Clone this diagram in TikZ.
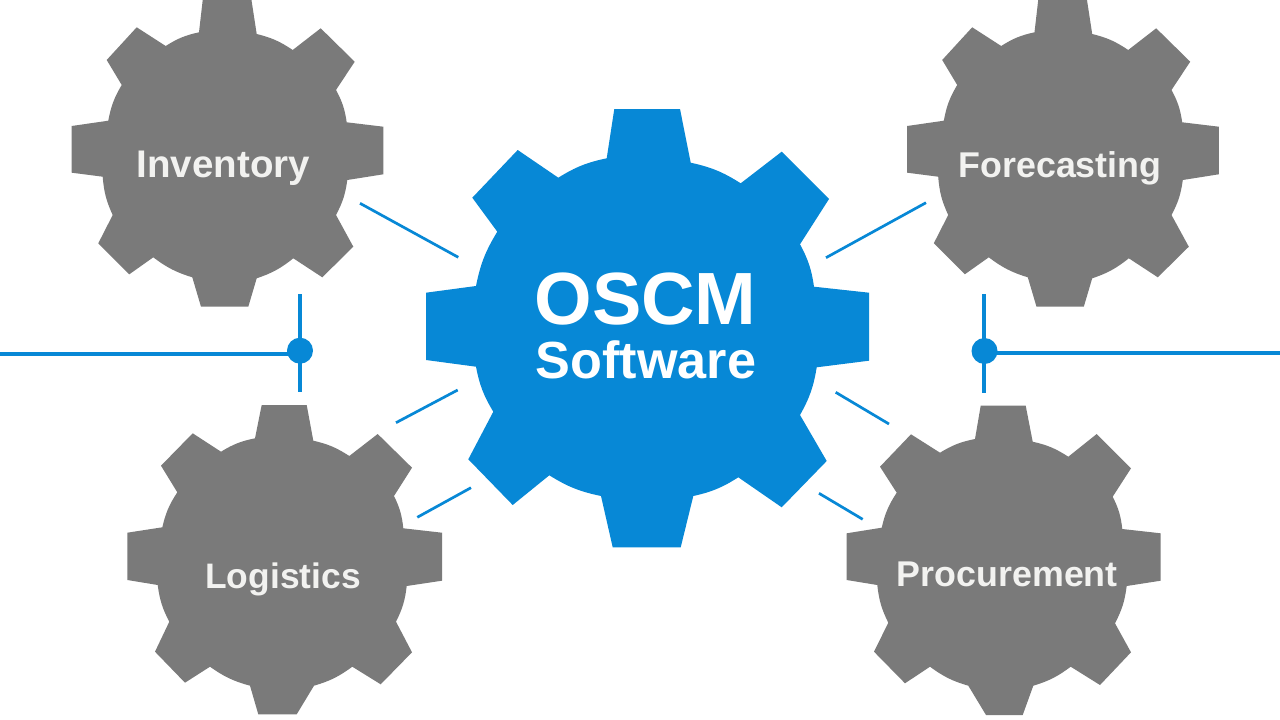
\documentclass[tikz,border=0pt]{standalone}
\usepackage{fontspec}
\setmainfont{Liberation Sans}
\definecolor{oscmblue}{HTML}{0788D6}
\definecolor{geargrey}{HTML}{7A7A7A}
\definecolor{geartext}{HTML}{F2F2F0}
\tikzset{
  hubgear/.style={fill=oscmblue,draw=none},
  sidegear/.style={fill=geargrey,draw=none},
  spoke/.style={draw=oscmblue,line width=2.7pt},
  busline/.style={draw=oscmblue,line width=4pt},
  joint/.style={circle,fill=oscmblue,draw=none,minimum size=26pt,inner sep=0pt},
  gearlabel/.style={anchor=base,text=geartext,font=\bfseries\fontsize{35.8pt}{36pt}\selectfont,inner sep=0pt},
  hublabel/.style={anchor=base,text=white,inner sep=0pt},
  arc/.style={bend left=10}
}
\newcommand{\inventoryshape}{%
  (203.3,-5) -- (250.7,-5) -- (256.7,34) to[arc] (292.7,50) -- (320.7,28.3) -- (354.7,61.7) -- (336,90)
  to[arc] (346.7,122.3) -- (383.3,126.7) -- (383.3,174.3) -- (347.3,180)
  to[arc] (336,215) -- (353.3,246.7) -- (322.3,277.3) -- (293.3,258.3)
  to[arc] (256.7,278.3) -- (248.3,306.7) -- (201,306.7) -- (192.3,277.3)
  to[arc] (153.3,257.3) -- (129.3,274.3) -- (98.3,243.3) -- (112.7,215)
  to[arc] (102.7,176.7) -- (71.7,172.7) -- (71.7,126) -- (108.3,120.7)
  to[arc] (121.7,85) -- (106.7,60) -- (136.7,27.3) -- (165.7,46)
  to[arc] (199,32.3) -- cycle}
\begin{document}
\begin{tikzpicture}[x=1pt,y=-1pt]
\clip (0,0) rectangle (1280,720);
\fill[white] (0,0) rectangle (1280,720);

% spokes ends
\coordinate (s1a) at (360,203.3);  \coordinate (s1b) at (458.3,257.3);
\coordinate (s2a) at (926,202.7);  \coordinate (s2b) at (826,257.7);
\coordinate (s3a) at (457.7,390);  \coordinate (s3b) at (396,422.7);
\coordinate (s4a) at (471,487.7);  \coordinate (s4b) at (417.3,517.3);
\coordinate (s5a) at (835.7,392.3);\coordinate (s5b) at (889,424);
\coordinate (s6a) at (819,493.3);  \coordinate (s6b) at (862.7,519.3);
\foreach \n in {1,...,6} \draw[spoke] (s\n a) -- (s\n b);

% left and right junctions
\coordinate (lt) at (300,294); \coordinate (lb) at (300,392);
\coordinate (le) at (0,354);
\coordinate (rt) at (983.7,294); \coordinate (rb) at (983.7,393);
\coordinate (re) at (1280,353.3);
\node[joint] (jl) at (300,350.7) {};
\node[joint] (jr) at (984.5,351) {};
\draw[busline] (lt) -- (lb);
\draw[busline] (rt) -- (rb);
\draw[busline] (le) -- (jl.center |- le);
\draw[busline] (re) -- (jr.center |- re);

% hub gear
\path[hubgear]
  (614.3,109) -- (680,109) -- (690.7,162.7) to[arc] (740.7,183.3) -- (781.7,151.7) -- (829,199) -- (800,244.3)
  to[arc] (814,286.7) -- (869,292.7) -- (869,360.7) -- (816.7,367.3)
  to[arc] (800,415) -- (826.7,461) -- (781.7,507.3) -- (738.3,477.3)
  to[arc] (693.3,496) -- (680.7,547.3) -- (612.7,547.3) -- (601,496)
  to[arc] (549.3,475.3) -- (512.7,505) -- (468.3,459.3) -- (493.3,411.7)
  to[arc] (476,366.7) -- (426,360) -- (426,292.7) -- (476,286)
  to[arc] (497.3,231.7) -- (472.3,197.7) -- (517.7,150) -- (558.3,177.7)
  to[arc] (606.7,158.3) -- cycle;

% inventory and forecasting gears
\path[sidegear] \inventoryshape;
\begin{scope}[xshift=835.5pt]
\path[sidegear] \inventoryshape;
\end{scope}

% logistics gear
\path[sidegear]
  (261.7,405) -- (306.7,405) -- (313.3,440.7) to[arc] (349.3,456) -- (377.7,434) -- (412,467.7) -- (394,496)
  to[arc] (403.3,528.3) -- (442,532.7) -- (442,580.7) -- (406.7,586)
  to[arc] (396,621.7) -- (412,652.3) -- (380.7,684.3) -- (352.3,666.7)
  to[arc] (314,685.7) -- (296.7,714.3) -- (258.3,714.3) -- (250,685.7)
  to[arc] (210,666.7) -- (185,682.7) -- (155,651.7) -- (169.3,621.7)
  to[arc] (157.7,585) -- (127.3,580) -- (127.3,532.7) -- (162.3,527.3)
  to[arc] (177.3,492.3) -- (161,465.7) -- (192.7,433.3) -- (221,451.7)
  to[arc] (255,438.3) -- cycle;

% procurement gear
\path[sidegear]
  (980.7,405.7) -- (1025.7,405.7) -- (1032.7,441.7) to[arc] (1068.3,456.7) -- (1096.7,434) -- (1131,468.3) -- (1112.7,496.7)
  to[arc] (1122.3,529) -- (1160.7,533.3) -- (1160.7,580.7) -- (1126.7,586)
  to[arc] (1115,623.3) -- (1131,652.3) -- (1100,685) -- (1070.7,666.7)
  to[arc] (1033.3,685.7) -- (1022.7,715) -- (986,715) -- (968.3,685.7)
  to[arc] (930,666.7) -- (905,683.3) -- (874,651.7) -- (888.3,622.7)
  to[arc] (877.3,585) -- (846.7,580) -- (846.7,533.3) -- (881.7,527.7)
  to[arc] (896.7,492.7) -- (880,466.7) -- (911,434.3) -- (940,452.7)
  to[arc] (975,439) -- cycle;

% labels
\node[gearlabel,font=\bfseries\fontsize{38.5pt}{38pt}\selectfont] (inv) at (223.3,177.3) {Inventory};
\node[gearlabel] (fore) at (1060,177) {Forecasting};
\node[gearlabel,font=\bfseries\fontsize{35.4pt}{35pt}\selectfont] (log) at (283,588.3) {Logistics};
\node[gearlabel] (proc) at (1007.3,586.7) {Procurement};
\node[hublabel,font=\bfseries\fontsize{74pt}{74pt}\selectfont] (oscm) at (645.5,324) {OSCM};
\node[hublabel,font=\bfseries\fontsize{52.2pt}{52pt}\selectfont] (soft) at (646,378) {Software};
\end{tikzpicture}
\end{document}
